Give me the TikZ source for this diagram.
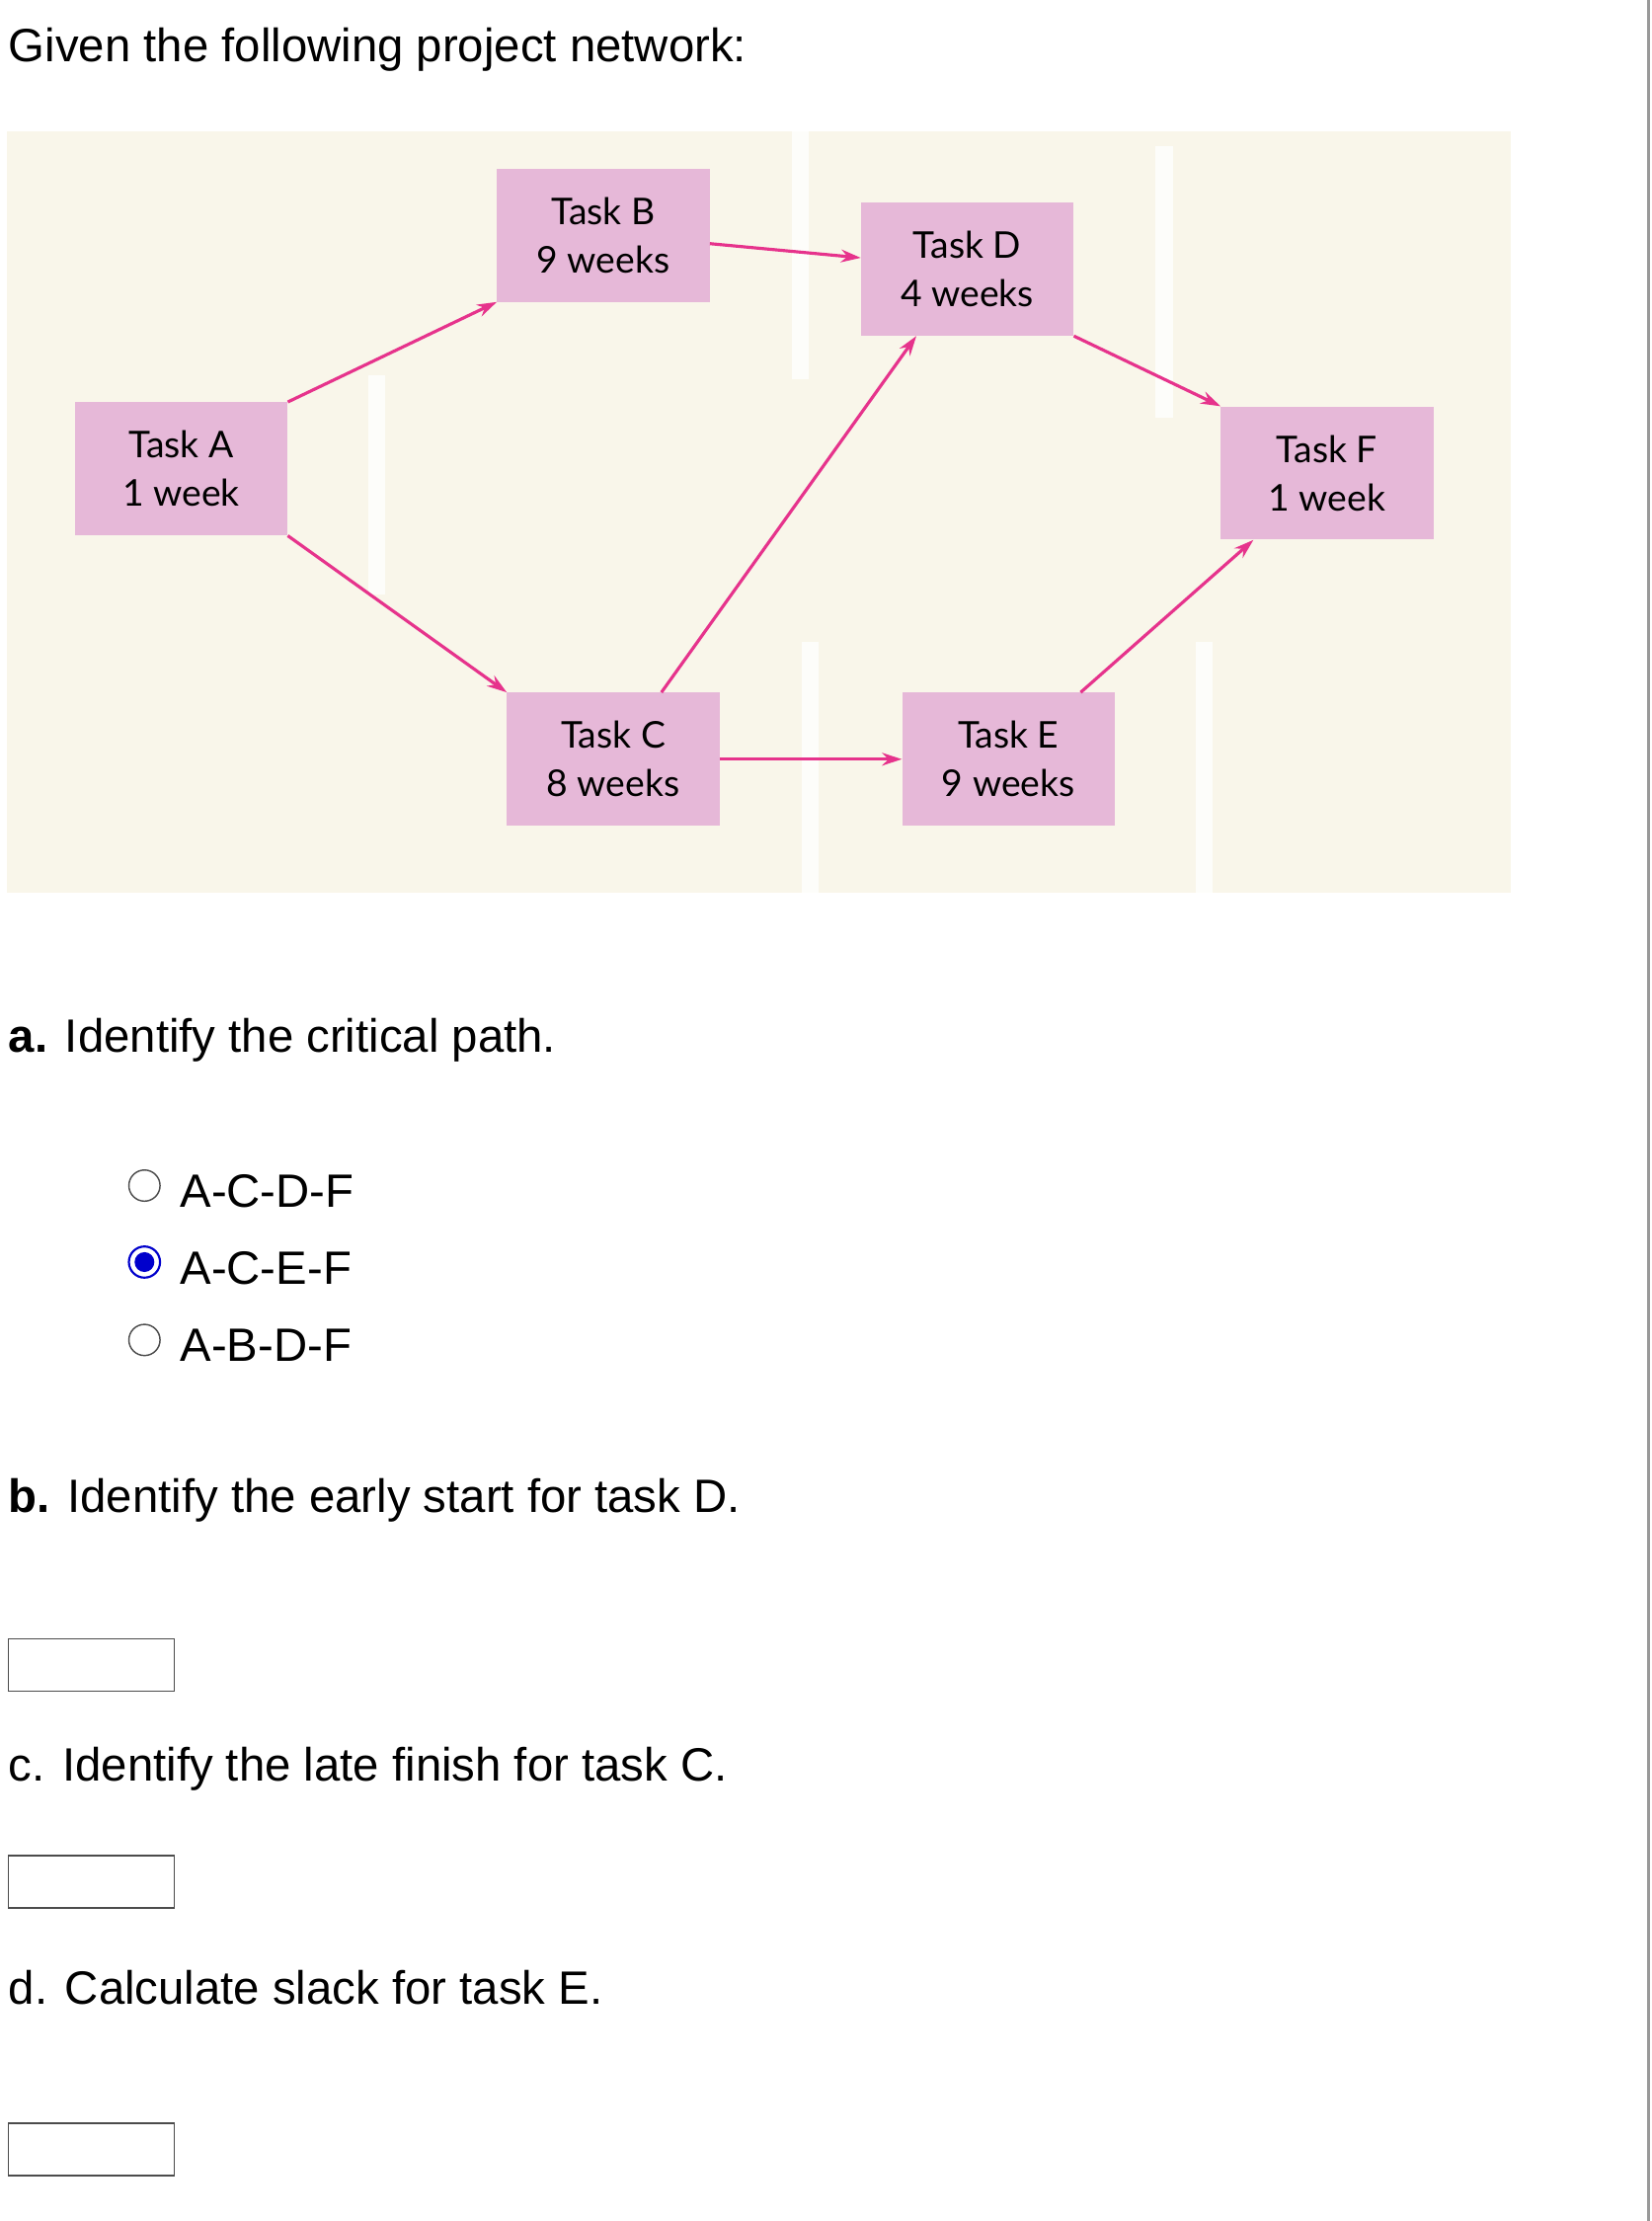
\documentclass[tikz,border=0pt]{standalone}
\usepackage{fontspec}
\setmainfont{Liberation Sans}
\newfontfamily\diag{Lato}
\usetikzlibrary{arrows.meta}
\definecolor{cream}{HTML}{F9F6EA}
\definecolor{pinkbox}{HTML}{E6B8D8}
\definecolor{mag}{HTML}{E6338C}
\tikzset{
 task/.style={fill=pinkbox,minimum width=150pt,minimum height=94pt,inner sep=0pt,align=center,font=\diag\fontsize{26}{34}\selectfont},
 conn/.style={draw=mag,line width=2.2pt,-{Stealth[length=14pt,width=9pt]}},
 txt/.style={anchor=west,inner sep=0pt,font=\fontsize{33}{38}\selectfont},
 ans/.style={draw=black!70,line width=1pt},
 radio/.style={draw=black!70,line width=1pt},
 stripe/.style={fill=white,opacity=0.8}
}
\begin{document}
\begin{tikzpicture}[x=1pt,y=-1pt]
\useasboundingbox (0,0) rectangle (1166,1568);
\fill[white] (0,0) rectangle (1166,1568);
\draw[black!40,line width=1.5pt] (1164,0) -- (1164,1568);
\node[txt] (title) at (6,35) {Given the following project network:};
\fill[cream] (5,93) rectangle (1067,630);
\fill[stripe] (559,93) rectangle (571,268);
\fill[stripe] (816,103) rectangle (828,295);
\fill[stripe] (260,265) rectangle (272,420);
\fill[stripe] (566,453) rectangle (578,630);
\fill[stripe] (844,453) rectangle (856,630);
\node[task] (B) at (426,166) {Task B\\9 weeks};
\node[task] (D) at (683,190) {Task D\\4 weeks};
\node[task] (A) at (128,331) {Task A\\1 week};
\node[task] (F) at (937,334) {Task F\\1 week};
\node[task] (C) at (433,536) {Task C\\8 weeks};
\node[task] (E) at (712,536) {Task E\\9 weeks};
\draw[conn] (A.north east) -- (B.south west);
\draw[conn] ([yshift=-6pt]B.east) -- ([yshift=8pt]D.west);
\draw[conn] (D.south east) -- (F.north west);
\draw[conn] (A.south east) -- (C.north west);
\draw[conn] ([xshift=34pt]C.north) -- ([xshift=-36pt]D.south);
\draw[conn] (C.east) -- (E.west);
\draw[conn] ([xshift=51pt]E.north) -- ([xshift=-52pt]F.south);
\node[txt] (qa) at (6,734) {\textbf{a.} Identify the critical path.};
\node[radio,circle,minimum size=22pt,inner sep=0pt] (r1) at (102,837) {};
\node[radio,circle,minimum size=22pt,inner sep=0pt,draw=blue!80!black,line width=1.5pt] (r2) at (102,891) {};
\fill[blue!80!black] (r2) circle (7pt);
\node[radio,circle,minimum size=22pt,inner sep=0pt] (r3) at (102,946) {};
\node[txt] (o1) at (127,841) {A-C-D-F};
\node[txt] (o2) at (127,895) {A-C-E-F};
\node[txt] (o3) at (127,950) {A-B-D-F};
\node[txt] (qb) at (6,1059) {\textbf{b.} Identify the early start for task D.};
\draw[ans] (6,1157) rectangle (123,1194);
\node[txt] (qc) at (6,1249) {c. Identify the late finish for task C.};
\draw[ans] (6,1310) rectangle (123,1347);
\node[txt] (qd) at (6,1403) {d. Calculate slack for task E.};
\draw[ans] (6,1499) rectangle (123,1536);
\end{tikzpicture}
\end{document}
